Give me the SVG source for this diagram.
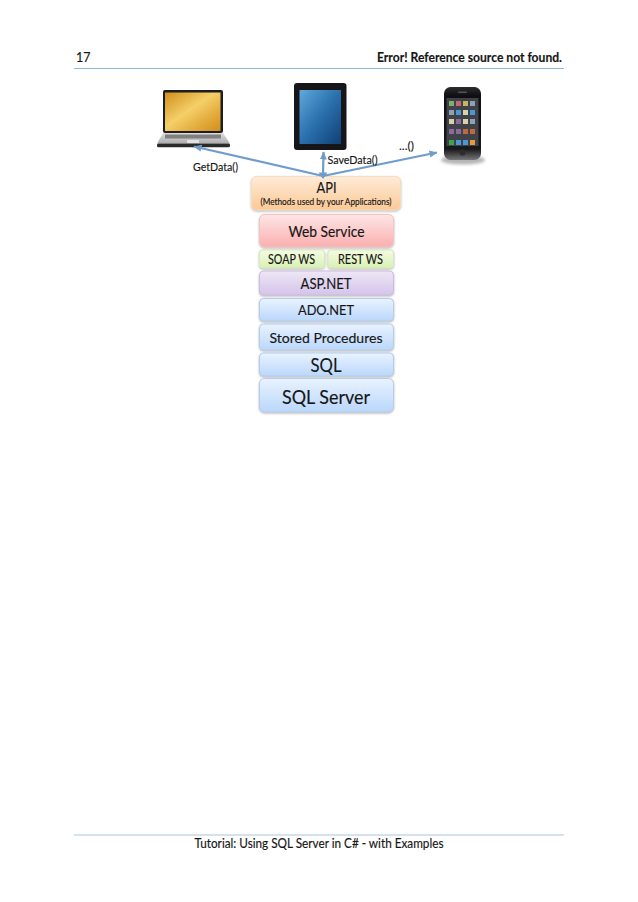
<svg xmlns="http://www.w3.org/2000/svg" width="638" height="902" viewBox="0 0 638 902">
<style>
text{font-family:"Lato","Open Sans","Liberation Sans",sans-serif;fill:#161616;stroke:#161616;stroke-width:.15}
.m{text-anchor:middle}
.box{stroke-width:1;filter:url(#sh)}
.rule{stroke-width:1.2;fill:none}
.conn{stroke:#6f9ccb;stroke-width:2.200;fill:none;marker-end:url(#arrow)}
</style>
<defs>
<marker id="arrow" markerWidth="10" markerHeight="8" refX="7.500" refY="3.500" orient="auto" markerUnits="userSpaceOnUse"><path d="M0 0L8 3.500L0 7Z" fill="#6f9ccb"/></marker>
<filter id="sh" x="-5%" y="-10%" width="110%" height="125%"><feDropShadow dx="0" dy="1" stdDeviation=".8" flood-color="#777" flood-opacity=".55"/></filter>
<filter id="soft" x="-20%" y="-20%" width="140%" height="140%"><feGaussianBlur stdDeviation="1.600"/></filter>
<linearGradient id="or" x1="0" y1="0" x2="0" y2="1"><stop offset="0" stop-color="#feebd8"/><stop offset="1" stop-color="#fcc995"/></linearGradient>
<linearGradient id="re" x1="0" y1="0" x2="0" y2="1"><stop offset="0" stop-color="#fee6e6"/><stop offset="1" stop-color="#faafaf"/></linearGradient>
<linearGradient id="gr" x1="0" y1="0" x2="0" y2="1"><stop offset="0" stop-color="#f5fce2"/><stop offset="1" stop-color="#d8f0b5"/></linearGradient>
<linearGradient id="pu" x1="0" y1="0" x2="0" y2="1"><stop offset="0" stop-color="#eee7f6"/><stop offset="1" stop-color="#d4c4ea"/></linearGradient>
<linearGradient id="bl" x1="0" y1="0" x2="0" y2="1"><stop offset="0" stop-color="#e9f3ff"/><stop offset="1" stop-color="#bad7fb"/></linearGradient>
<linearGradient id="lap" x1="0" y1="0" x2="1" y2="1"><stop offset="0" stop-color="#d08f1e"/><stop offset=".45" stop-color="#f5cf68"/><stop offset=".75" stop-color="#e2a93a"/><stop offset="1" stop-color="#cf8f20"/></linearGradient>
<linearGradient id="tab" x1="0" y1="0" x2="1" y2="1"><stop offset="0" stop-color="#5ea9dc"/><stop offset=".5" stop-color="#2a70ad"/><stop offset="1" stop-color="#103f75"/></linearGradient>
<linearGradient id="key" x1="0" y1="0" x2="0" y2="1"><stop offset="0" stop-color="#dedede"/><stop offset="1" stop-color="#adadad"/></linearGradient>
<linearGradient id="ph" x1="0" y1="0" x2="0" y2="1"><stop offset="0" stop-color="#2c2c2f"/><stop offset=".12" stop-color="#0f0f11"/><stop offset=".85" stop-color="#19191b"/><stop offset="1" stop-color="#77777a"/></linearGradient>
</defs>
<rect width="638" height="902" fill="#fff"/>
<g id="header">
<text x="76" y="62" font-size="12.500">17</text>
<text x="562" y="62" font-size="12.500" font-weight="700" text-anchor="end" textLength="185" lengthAdjust="spacingAndGlyphs">Error! Reference source not found.</text>
<path class="rule" stroke="#8db8df" d="M74 68.500H564"/>
</g>
<g id="laptop">
<rect x="163" y="90" width="60" height="43" rx="2" fill="#1d1d1f"/>
<rect x="165" y="92.500" width="55.500" height="38.500" fill="url(#lap)"/>
<path d="M163 133H223L230 143.500H157Z" fill="url(#key)"/>
<rect x="165" y="134.500" width="56" height="4" fill="#808080"/>
<rect x="187" y="140" width="12" height="3" fill="#e2e2e2"/>
<rect x="157" y="143.500" width="73" height="3.800" rx="1.500" fill="#2a2a2a"/>
</g>
<g id="tablet">
<rect x="294" y="83" width="52.500" height="67" rx="3" fill="#161618"/>
<rect x="299.500" y="90" width="41.500" height="54" fill="url(#tab)"/>
</g>
<g id="phone">
<ellipse cx="463" cy="160" rx="22" ry="4.500" fill="#b5b5b5" filter="url(#soft)"/>
<rect x="444" y="87" width="37" height="73" rx="6.500" fill="url(#ph)"/>
<rect x="446.500" y="98" width="32" height="48" fill="#3f4249"/>
<g fill="#7fb069"><rect x="449" y="101" width="5" height="5"/><rect x="449" y="140" width="5" height="5" fill="#3da34d"/></g>
<g fill="#c06a78"><rect x="456" y="101" width="5" height="5"/></g>
<g fill="#c9b45b"><rect x="463" y="101" width="5" height="5"/><rect x="470" y="140" width="5" height="5" fill="#e59a3c"/></g>
<g fill="#8da3b5"><rect x="470" y="101" width="5" height="5"/><rect x="449" y="110" width="5" height="5"/><rect x="470" y="119" width="5" height="5"/></g>
<g fill="#4f94d4"><rect x="456" y="110" width="5" height="5"/><rect x="470" y="110" width="5" height="5"/><rect x="456" y="140" width="5" height="5"/><rect x="463" y="140" width="5" height="5"/></g>
<g fill="#d9d2a8"><rect x="463" y="110" width="5" height="5"/><rect x="449" y="119" width="5" height="5"/><rect x="463" y="119" width="5" height="5"/></g>
<g fill="#8a6b9e"><rect x="456" y="119" width="5" height="5"/><rect x="449" y="129" width="5" height="5"/><rect x="456" y="129" width="5" height="5"/></g>
<g fill="#bf6a3c"><rect x="463" y="129" width="5" height="5"/><rect x="470" y="129" width="5" height="5"/></g>
<circle cx="462.500" cy="152.500" r="3" fill="#2c2c2e"/>
<rect x="458" y="91.500" width="9" height="1.500" rx=".7" fill="#555"/>
</g>
<g id="api">
<rect class="box" x="251.500" y="176.500" width="149" height="33.500" rx="5" fill="url(#or)" stroke="#f6dcc2"/>
<text class="m" x="326.500" y="193" font-size="15" textLength="20" lengthAdjust="spacingAndGlyphs">API</text>
<text class="m" x="326" y="205" font-size="9.500" textLength="131" lengthAdjust="spacingAndGlyphs">(Methods used by your Applications)</text>
</g>
<g id="connectors">
<path class="conn" d="M323 176L194 146.500"/>
<path class="conn" d="M323 176L323.500 152"/>
<path class="conn" d="M323 176L437 152.500"/>
<path d="M318.500 172.500L327.500 172.500L323 179Z" fill="#6f9ccb"/>
</g>
<g id="labels">
<text x="193" y="171" font-size="12" textLength="45" lengthAdjust="spacingAndGlyphs">GetData()</text>
<text x="327.500" y="163.500" font-size="12" textLength="50" lengthAdjust="spacingAndGlyphs">SaveData()</text>
<text x="399" y="150" font-size="12" textLength="15" lengthAdjust="spacingAndGlyphs">...()</text>
</g>
<g id="web-service">
<rect class="box" x="259.500" y="214.500" width="134" height="32.500" rx="5" fill="url(#re)" stroke="#f2c4c4"/>
<text class="m" x="326.500" y="237" font-size="15" textLength="76" lengthAdjust="spacingAndGlyphs">Web Service</text>
</g>
<g id="soap-ws">
<rect class="box" x="259.500" y="250" width="65" height="18" rx="3" fill="url(#gr)" stroke="#d8e9bb"/>
<text class="m" x="291.500" y="264" font-size="12.500" textLength="47" lengthAdjust="spacingAndGlyphs">SOAP WS</text>
</g>
<g id="rest-ws">
<rect class="box" x="328" y="250" width="65.500" height="18" rx="3" fill="url(#gr)" stroke="#d8e9bb"/>
<text class="m" x="360.500" y="264" font-size="12.500" textLength="45" lengthAdjust="spacingAndGlyphs">REST WS</text>
</g>
<g id="asp-net">
<rect class="box" x="259.500" y="271" width="134" height="24" rx="4" fill="url(#pu)" stroke="#cbbede"/>
<text class="m" x="326" y="288.500" font-size="14.500" textLength="51" lengthAdjust="spacingAndGlyphs">ASP.NET</text>
</g>
<g id="ado-net">
<rect class="box" x="259.500" y="298.500" width="134" height="22.500" rx="4" fill="url(#bl)" stroke="#b6cde8"/>
<text class="m" x="326" y="315" font-size="14" textLength="56" lengthAdjust="spacingAndGlyphs">ADO.NET</text>
</g>
<g id="stored-procedures">
<rect class="box" x="259.500" y="324" width="134" height="26" rx="4" fill="url(#bl)" stroke="#b6cde8"/>
<text class="m" x="326" y="342.500" font-size="14" textLength="113" lengthAdjust="spacingAndGlyphs">Stored Procedures</text>
</g>
<g id="sql">
<rect class="box" x="259.500" y="353" width="134" height="23" rx="4" fill="url(#bl)" stroke="#b6cde8"/>
<text class="m" x="326" y="372" font-size="19" textLength="31" lengthAdjust="spacingAndGlyphs">SQL</text>
</g>
<g id="sql-server">
<rect class="box" x="259.500" y="378.500" width="134" height="33.500" rx="5" fill="url(#bl)" stroke="#b6cde8"/>
<text class="m" x="326" y="403.500" font-size="19" textLength="88" lengthAdjust="spacingAndGlyphs">SQL Server</text>
</g>
<g id="footer">
<path class="rule" stroke="#a9c3df" d="M74 835H564"/>
<text class="m" x="319" y="848" font-size="12.500" textLength="249" lengthAdjust="spacingAndGlyphs">Tutorial: Using SQL Server in C# - with Examples</text>
</g>
</svg>
